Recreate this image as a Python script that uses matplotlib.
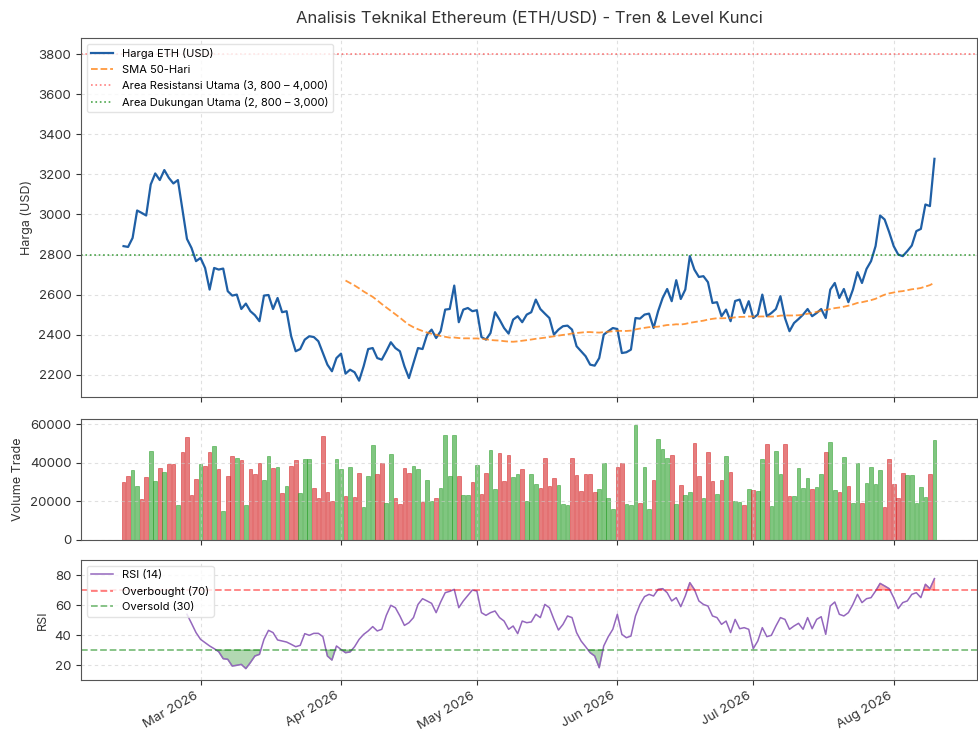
import numpy as np
import pandas as pd
import matplotlib
matplotlib.use("Agg")
import matplotlib.pyplot as plt
import matplotlib.dates as mdates

plt.rcParams['font.family'] = ['Inter', 'DejaVu Sans']

start_date = "2026-02-12"
price = [
    2842, 2838, 2883, 3020, 3008, 2995, 3150, 3205, 3172, 3222,
    3183, 3155, 3172, 3025, 2878, 2833, 2767, 2783, 2733, 2625,
    2733, 2725, 2730, 2617, 2595, 2600, 2528, 2555, 2517, 2497,
    2467, 2595, 2598, 2528, 2583, 2512, 2517, 2392, 2317, 2328,
    2375, 2392, 2388, 2367, 2308, 2250, 2217, 2283, 2305, 2205,
    2225, 2212, 2170, 2242, 2328, 2333, 2283, 2275, 2317, 2362,
    2333, 2317, 2242, 2183, 2258, 2333, 2328, 2400, 2425, 2383,
    2417, 2525, 2528, 2645, 2462, 2525, 2533, 2517, 2522, 2388,
    2375, 2408, 2512, 2475, 2433, 2405, 2475, 2492, 2462, 2500,
    2512, 2575, 2528, 2505, 2483, 2400, 2425, 2442, 2445, 2425,
    2342, 2317, 2292, 2250, 2245, 2283, 2400, 2417, 2433, 2428,
    2308, 2312, 2325, 2483, 2480, 2500, 2505, 2433, 2517, 2583,
    2628, 2567, 2672, 2578, 2625, 2792, 2725, 2688, 2692, 2662,
    2558, 2562, 2492, 2525, 2467, 2568, 2575, 2508, 2567, 2483,
    2500, 2600, 2492, 2508, 2528, 2592, 2483, 2417, 2458, 2478,
    2500, 2528, 2492, 2508, 2528, 2483, 2625, 2658, 2583, 2628,
    2562, 2625, 2712, 2658, 2728, 2767, 2842, 2995, 2975, 2912,
    2842, 2800, 2792, 2817, 2845, 2917, 2928, 3050, 3042, 3278,
]
volume = [
    30260, 33215, 36170, 28000, 21216, 32690, 46257, 30600, 37560, 35300,
    39300, 39300, 18085, 45910, 53210, 23130, 31820, 39300, 38430, 45910,
    48860, 37040, 14955, 33215, 43650, 42780, 41390, 18085, 37040, 34430,
    39820, 31130, 43650, 37210, 37900, 24170, 28000, 38430, 41390, 24170,
    41900, 42260, 27130, 21910, 53730, 25040, 20170, 42260, 36690, 22780,
    38080, 22430, 34950, 17040, 33215, 49210, 34080, 39820, 19300, 44520,
    21910, 18780, 37560, 34600, 38430, 36690, 19650, 30950, 20170, 21910,
    27130, 54600, 33215, 54600, 33215, 23300, 23300, 30085, 38950, 24000,
    34600, 46600, 26260, 45390, 30600, 44170, 32690, 34080, 36690, 20170,
    34080, 29215, 27130, 42780, 28000, 32345, 28350, 18780, 17910, 42780,
    33740, 25390, 34430, 34080, 25040, 26260, 40170, 21910, 16350, 38080,
    40170, 18780, 18085, 59820, 19300, 37900, 16350, 30950, 52340, 47130,
    42430, 44170, 18780, 28520, 23130, 25040, 50600, 33215, 21910, 45740,
    30600, 24000, 31130, 43650, 35300, 20170, 19820, 17910, 26600, 25910,
    25390, 42260, 50080, 17560, 46260, 34080, 49730, 22780, 22780, 37560,
    27130, 32000, 26260, 27480, 34080, 45910, 50950, 25740, 25040, 43130,
    28000, 19300, 40170, 18960, 29740, 37900, 29215, 36345, 17040, 41900,
    29215, 21910, 34950, 33560, 33560, 18960, 27650, 22260, 34080, 52000,
]
rsi_values = [np.nan] * 14 + [
    53.8, 47.8, 41.6, 37.1, 34.9, 32.7, 30.9, 28.9, 24.2, 23.8,
    19.3, 19.8, 20.4, 17.6, 21.6, 26.0, 27.1, 37.1, 43.1, 41.6,
    36.7, 36.0, 35.3, 33.8, 32.2, 33.1, 40.9, 39.8, 41.1, 41.1,
    38.9, 26.0, 23.3, 32.7, 30.4, 28.2, 28.7, 32.2, 37.1, 40.4,
    42.7, 45.6, 42.7, 43.8, 53.1, 59.8, 58.2, 52.7, 46.4, 48.2,
    51.6, 60.4, 64.2, 62.7, 61.1, 54.9, 62.0, 68.2, 69.1, 70.4,
    58.2, 62.7, 66.4, 70.0, 69.3, 54.9, 53.1, 54.9, 56.0, 51.6,
    49.3, 43.8, 46.0, 40.9, 49.3, 48.2, 48.7, 53.8, 51.6, 60.4,
    58.2, 50.4, 43.3, 47.1, 52.7, 51.6, 41.6, 36.0, 32.2, 28.2,
    26.0, 18.2, 32.7, 38.9, 43.8, 53.8, 40.4, 38.2, 39.3, 52.7,
    60.4, 65.6, 67.1, 66.0, 70.4, 70.9, 68.2, 62.7, 64.9, 58.9,
    66.0, 74.9, 70.4, 62.7, 60.4, 59.3, 52.7, 51.6, 47.1, 49.3,
    41.6, 50.4, 44.2, 44.9, 43.8, 30.9, 36.0, 44.9, 38.9, 39.8,
    46.0, 51.6, 50.4, 43.8, 46.0, 47.8, 43.8, 51.6, 44.2, 50.4,
    52.2, 40.4, 59.3, 62.0, 53.8, 52.7, 54.9, 60.4, 67.1, 61.6,
    64.2, 64.9, 69.3, 74.4, 72.7, 70.9, 64.9, 57.6, 61.6, 62.7,
    67.1, 68.2, 64.9, 73.8, 70.9, 77.6,
]
resistance_level = 3800
support_level = 2800
overbought = 70
oversold = 30

dates = pd.date_range(start_date, periods=len(price), freq="D")
price_s = pd.Series(price, index=dates, dtype=float)
sma50 = price_s.rolling(50).mean()
rsi = np.array(rsi_values, dtype=float)
up = np.r_[False, np.diff(price) > 0]
bar_colors = np.where(up, '#2ca02c', '#d62728')

W, H = 979, 740
fig = plt.figure(figsize=(W / 100, H / 100), dpi=100)
L, R = 81 / W, 977 / W
ax1 = fig.add_axes([L, 1 - 397 / H, R - L, (397 - 38) / H])
ax2 = fig.add_axes([L, 1 - 540 / H, R - L, (540 - 419) / H], sharex=ax1)
ax3 = fig.add_axes([L, 1 - 680 / H, R - L, (680 - 560) / H], sharex=ax1)

grid_kw = dict(linestyle=(0, (3, 3)), color='#cccccc', alpha=0.6, linewidth=0.8)
for ax in (ax1, ax2, ax3):
    ax.grid(True, **grid_kw)
    for sp in ax.spines.values():
        sp.set_color('#555555')
    ax.tick_params(labelsize=9.5, colors='#333333', length=3.5)

# Price panel
ax1.plot(dates, price_s, color='#1f5fa5', linewidth=1.6, label='Harga ETH (USD)')
ax1.plot(dates, sma50, color='#ff7f0e', linestyle='--', linewidth=1.3, alpha=0.8,
         label='SMA 50-Hari')
ax1.axhline(resistance_level, color='red', linestyle=':', linewidth=1.2, alpha=0.5,
            label='Area Resistansi Utama (3, 800 – 4,000)')
ax1.axhline(support_level, color='green', linestyle=':', linewidth=1.2, alpha=0.7,
            label='Area Dukungan Utama (2, 800 – 3,000)')
ax1.set_ylabel('Harga (USD)', fontsize=9, color='#333333')
ax1.set_title('Analisis Teknikal Ethereum (ETH/USD) - Tren & Level Kunci',
              fontsize=12, color='#333333', pad=11)
ax1.legend(loc='upper left', fontsize=8, framealpha=0.8, edgecolor='#dddddd')
ax1.yaxis.set_major_locator(plt.MultipleLocator(200))

# Volume panel
ax2.bar(dates, volume, width=0.8, color=bar_colors, alpha=0.6,
        edgecolor=bar_colors, linewidth=0.6)
ax2.set_ylabel('Volume Trade', fontsize=9, color='#333333')
ax2.yaxis.set_major_locator(plt.MultipleLocator(20000))

# RSI panel
ax3.plot(dates, rsi, color='#9467bd', linewidth=1.1, label='RSI (14)')
ax3.axhline(overbought, color='red', linestyle='--', linewidth=1.3, alpha=0.5,
            label='Overbought (70)')
ax3.axhline(oversold, color='green', linestyle='--', linewidth=1.3, alpha=0.5,
            label='Oversold (30)')
ax3.fill_between(dates, rsi, oversold, where=rsi <= oversold, color='green',
                 alpha=0.3, interpolate=True)
ax3.fill_between(dates, rsi, overbought, where=rsi >= overbought, color='red',
                 alpha=0.3, interpolate=True)
ax3.set_ylim(10, 90)
ax3.set_ylabel('RSI', fontsize=9, color='#333333')
ax3.legend(loc='upper left', fontsize=8, framealpha=0.8, edgecolor='#dddddd')

ax3.xaxis.set_major_locator(mdates.MonthLocator())
ax3.xaxis.set_major_formatter(mdates.DateFormatter('%b %Y'))
plt.setp(ax1.get_xticklabels(), visible=False)
plt.setp(ax2.get_xticklabels(), visible=False)
for lbl in ax3.get_xticklabels():
    lbl.set_rotation(30)
    lbl.set_ha('right')

fig.savefig('out.png', dpi=100)
